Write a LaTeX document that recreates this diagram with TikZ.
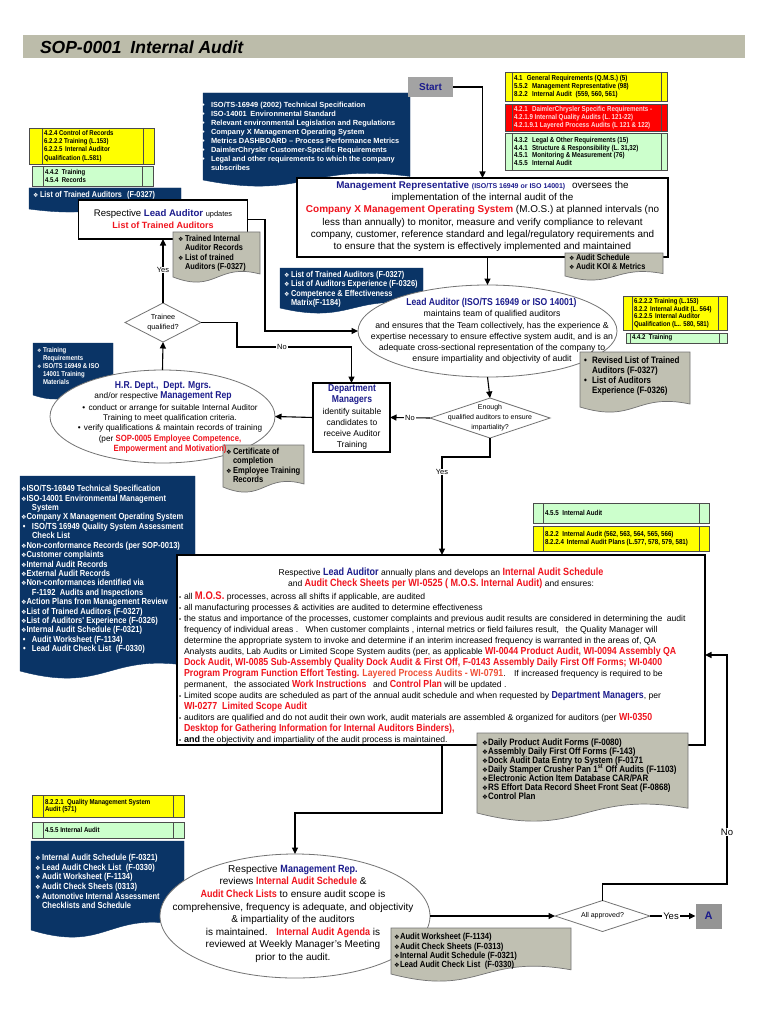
\documentclass[tikz,border=0pt]{standalone}
\usepackage{fontspec}
\usepackage{graphicx}
\setmainfont{Liberation Sans}
\newfontfamily\nar[FakeStretch=0.86]{Liberation Sans}
\newfontfamily\djv{DejaVu Sans}
\usetikzlibrary{shapes.geometric,arrows.meta,calc}
\lineskiplimit=-20pt
\definecolor{navy}{RGB}{28,28,140}
\definecolor{dred}{RGB}{240,20,30}
\definecolor{lred}{RGB}{240,80,55}
\definecolor{docblue}{RGB}{10,52,102}
\definecolor{docgray}{RGB}{192,192,178}
\definecolor{hdr}{RGB}{188,188,170}
\definecolor{ylw}{RGB}{255,255,0}
\definecolor{grn}{RGB}{204,255,204}
\definecolor{rbx}{RGB}{255,0,0}
\definecolor{pinktxt}{RGB}{255,215,215}
\definecolor{startgray}{RGB}{163,163,163}
\newcommand\fs[2]{\fontsize{#1}{#2}\selectfont}
\newcommand\dmx[1]{\makebox[#1][l]{\scalebox{0.7}{\djv\char"2756}}}
\newcommand\bux[1]{\makebox[#1][l]{\textbullet}}
\newcommand\sbu{\makebox[5pt][l]{\fs{6}{11}\textbullet}}
\newcommand\NV[1]{{\color{navy}\bfseries #1}}
\newcommand\RD[1]{{\color{dred}\bfseries #1}}
\newcommand\docshape[6]{%
  \path[#1] (#2,#3) -- (#4,#3) -- (#4,{#5-0.6*#6})
    .. controls ({(#2+#4)/2},{#5-2.89*#6}) and ({(#2+#4)/2},{#5+3.36*#6}) .. (#2,#5) -- cycle;}
\newcommand\refbox[9]{%
  \node[refst,fill=#2,anchor=north west,minimum width={#5-#3},minimum height={#6-#4}] (#1) at (#3,#4) {};
  \draw[refln] ([xshift=#7pt]#1.north west) -- ([xshift=#7pt]#1.south west);
  \draw[refln] ([xshift=-#8pt]#1.north east) -- ([xshift=-#8pt]#1.south east);
  \node[anchor=west,align=left,font=\nar\bfseries\rf,reftext] (#1t) at ([xshift=#7pt+2pt]#1.west) {#9};}
\begin{document}
\begin{tikzpicture}[x=1pt,y=-1pt,
  every node/.style={inner sep=0pt,outer sep=0pt},
  arr/.style={draw=black,line width=1.1pt,-{Triangle[length=6.5pt,width=6pt]}},
  boxst/.style={draw=black,line width=1.1pt,fill=white,rectangle},
  ellst/.style={draw=black!55,line width=0.8pt,fill=white,ellipse},
  diast/.style={draw=black!55,line width=0.8pt,fill=white,diamond},
  bdoc/.style={fill=docblue,draw=docblue},
  gdoc/.style={fill=docgray,draw=black!55,line width=0.7pt},
  refst/.style={draw=black!70,line width=0.8pt,rectangle},
  refln/.style={draw=black!70,line width=0.8pt},
  reftext/.style={},
  lbl/.style={fill=white,inner sep=0.8pt,font=\fs{7.5}{8}},
]
\useasboundingbox (0,0) rectangle (768,1024);
\fill[white] (0,0) rectangle (768,1024);
% header
\fill[hdr] (23,35) rectangle (745,58);
\node[anchor=base west,font=\bfseries\itshape\fs{17.5}{18}] (title) at (40,53.5) {SOP-0001\hspace{0.5em}Internal Audit};
% background blue documents
\docshape{bdoc}{203}{93}{410}{180}{6}
\docshape{bdoc}{29}{188}{181}{209}{3}
\docshape{bdoc}{33}{343}{113}{395}{4}
\docshape{bdoc}{280}{268}{423}{308}{5}
\docshape{bdoc}{20}{476}{195}{671}{7}
\docshape{bdoc}{31}{841}{184}{930}{7}
% main nodes
\node[fill=startgray,minimum width=45,minimum height=20,font=\bfseries\fs{10}{10},text=navy] (start) at (430.5,87) {Start};
\node[boxst,minimum width=371,minimum height=79] (mgmt) at (482.5,217.5) {};
\node[boxst,minimum width=169,minimum height=39] (upd) at (163,219.5) {};
\node[diast,minimum width=76,minimum height=39] (trainee) at (163,322.5) {};
\node[ellst,minimum width=225,minimum height=93] (hr) at (162.5,416.5) {};
\node[boxst,minimum width=77,minimum height=69] (dept) at (351.5,417.5) {};
\node[diast,minimum width=120,minimum height=40] (enough) at (490,418) {};
\node[ellst,minimum width=259,minimum height=92] (lae) at (487.5,331) {};
\node[boxst,minimum width=528,minimum height=190] (bigbox) at (441,650) {};
\node[ellst,minimum width=270,minimum height=124] (mre) at (295,916) {};
\node[diast,minimum width=95,minimum height=31] (approved) at (602.5,916) {};
\node[fill=black!42,minimum width=26,minimum height=25,font=\bfseries\fs{11}{11},text=navy] (abox) at (708.5,916) {A};
% connectors
\coordinate (c1) at (237,347);
\coordinate (c2) at (265,331);
\coordinate (c3) at (442,457);
\coordinate (c4) at (442,813);
\coordinate (c5) at (727,884);
\coordinate (c6) at (727,655);
\draw[arr] (start.east) -| (mgmt.north);
\draw[arr] (mgmt.south -| lae.north) -- (lae.north);
\draw[arr] (lae.south) -- (enough.north);
\draw[arr] (enough.west) -- (dept.east);
\draw[arr] (dept.west) -- (hr.east);
\draw[arr] (hr.north) -- (trainee.south);
\draw[arr] (trainee.north) -- (upd.south);
\draw[arr] (trainee.east) -| (c1) -| (dept.north);
\draw[arr] (upd.east) -| (c2) -- (lae.west);
\draw[arr] (enough.south) |- (c3) -- (c3 |- bigbox.north);
\draw[arr] (c4 |- bigbox.south) -- (c4) -| (mre.north);
\draw[arr] (mre.east) -- (approved.west);
\draw[arr] (approved.east) -- (abox.west);
\draw[arr] (approved.north) |- (c5) -- (c6) -- (c6 -| bigbox.east);
% gray documents on top
\docshape{gdoc}{173}{232}{260}{277}{5}
\docshape{gdoc}{565}{253}{663}{276}{4}
\docshape{gdoc}{580}{352}{690}{407}{5}
\docshape{gdoc}{223}{445}{304}{487}{5}
\docshape{gdoc}{477}{733}{688}{813}{8}
\docshape{gdoc}{391}{928}{571}{974}{7}
% reference boxes
\def\rf{\fs{7.2}{7.7}}
\refbox{r1}{ylw}{505}{72}{667}{101}{7}{6}{4.1\hspace{0.6em}General Requirements (Q.M.S.) (5)\\5.5.2\hspace{0.6em}Management Representative (98)\\8.2.2\hspace{0.6em}Internal Audit\hspace{0.5em}(559, 560, 561)}
\tikzset{reftext/.style={text=pinktxt}}
\def\rf{\fs{7.2}{8}}
\refbox{r2}{rbx}{505}{104}{667}{131}{7}{6}{4.2.1\hspace{0.6em}DaimlerChrysler Specific Requirements -\\4.2.1.9 Internal Quality Audits (L. 121-22)\\4.2.1.9.1 Layered Process Audits (L 121 \& 122)}
\tikzset{reftext/.style={}}
\def\rf{\fs{7.2}{7.7}}
\refbox{r3}{grn}{505}{133}{667}{170}{7}{6}{4.3.2\hspace{0.6em}Legal \& Other Requirements (15)\\4.4.1\hspace{0.6em}Structure \& Responsibility (L. 31,32)\\4.5.1\hspace{0.6em}Monitoring \& Measurement (76)\\4.5.5\hspace{0.6em}Internal Audit}
\def\rf{\fs{7}{8.3}}
\refbox{l1}{ylw}{29}{128}{154}{164}{13}{11}{4.2.4 Control of Records\\6.2.2.2 Training (L.153)\\6.2.2.5\hspace{0.4em}Internal Auditor\\Qualification (L.581)}
\refbox{l2}{grn}{32}{166}{153}{186}{11}{11}{4.4.2\hspace{0.5em}Training\\4.5.4\hspace{0.5em}Records}
\def\rf{\fs{7}{7.6}}
\refbox{rr1}{ylw}{623}{296}{727}{330}{9}{9}{6.2.2.2 Training (L.153)\\8.2.2\hspace{0.4em}Internal Audit (L. 564)\\6.2.2.5\hspace{0.4em}Internal Auditor\\Qualification (L.. 580, 581)}
\refbox{rr2}{grn}{626}{333}{727}{343}{4}{8}{4.4.2\hspace{0.5em}Training}
\def\rf{\fs{7.2}{8}}
\refbox{br1}{grn}{533}{503}{709}{523}{10}{10}{4.5.5\hspace{0.5em}Internal Audit}
\refbox{br2}{ylw}{533}{526}{709}{551}{10}{10}{8.2.2\hspace{0.5em}Internal Audit (562, 563, 564, 565, 566)\\8.2.2.4\hspace{0.4em}Internal Audit Plans (L.577, 578, 579, 581)}
\def\rf{\fs{7.1}{7.5}}
\refbox{bl1}{ylw}{32}{795}{184}{817}{11}{11}{8.2.2.1\hspace{0.5em}Quality Management System\\Audit (571)}
\refbox{bl2}{grn}{32}{822}{184}{838}{11}{11}{4.5.5 Internal Audit}
% texts in blue documents
\node[anchor=north west,align=left,font=\bfseries\fs{7.4}{9},text=white] (isot) at (202,101.8) {\bux{9pt}ISO/TS-16949 (2002) Technical Specification\\\bux{9pt}ISO-14001\hspace{0.5em}Environmental Standard\\\bux{9pt}Relevant environmental Legislation and Regulations\\\bux{9pt}Company X Management Operating System\\\bux{9pt}Metrics DASHBOARD \textendash{} Process Performance Metrics\\\bux{9pt}DaimlerChrysler Customer-Specific Requirements\\\bux{9pt}Legal and other requirements to which the company\\\hspace*{9pt}subscribes};
\node[anchor=mid west,font=\nar\bfseries\fs{8.5}{9},text=white] (bandt) at (33,195) {\dmx{7pt}List of Trained Auditors\hspace{0.6em}(F-0327)};
\node[anchor=north west,align=left,font=\nar\bfseries\fs{7}{8},text=white] (trqt) at (37,347.1) {\dmx{6pt}Training\\\hspace*{6pt}Requirements\\\dmx{6pt}ISO/TS 16949 \& ISO\\\hspace*{6pt}14001 Training\\\hspace*{6pt}Materials};
\node[anchor=north west,align=left,font=\nar\bfseries\fs{8.6}{9.3},text=white] (ltat) at (284,271.4) {\dmx{7pt}List of Trained Auditors (F-0327)\\\dmx{7pt}List of Auditors Experience (F-0326)\\\dmx{7pt}Competence \& Effectiveness\\\hspace*{7pt}Matrix(F-1184)};
\node[anchor=north west,align=left,font=\nar\bfseries\fs{8.8}{9.42},text=white] (bbt) at (21,485.3) {\dmx{5.5pt}ISO/TS-16949 Technical Specification\\\dmx{5.5pt}ISO-14001 Environmental Management\\\hspace*{11pt}System\\\dmx{5.5pt}Company X Management Operating System\\\hspace*{2pt}\bux{9pt}ISO/TS 16949 Quality System Assessment\\\hspace*{11pt}Check List\\\dmx{5.5pt}Non-conformance Records (per SOP-0013)\\\dmx{5.5pt}Customer complaints\\\dmx{5.5pt}Internal Audit Records\\\dmx{5.5pt}External Audit Records\\\dmx{5.5pt}Non-conformances identified via\\\hspace*{11pt}F-1192\hspace{0.5em}Audits and Inspections\\\dmx{5.5pt}Action Plans from Management Review\\\dmx{5.5pt}List of Trained Auditors (F-0327)\\\dmx{5.5pt}List of Auditors' Experience (F-0326)\\\dmx{5.5pt}Internal Audit Schedule (F-0321)\\\hspace*{2pt}\bux{9pt}Audit Worksheet (F-1134)\\\hspace*{2pt}\bux{9pt}Lead Audit Check List\hspace{0.5em}(F-0330)};
\node[anchor=north west,align=left,font=\nar\bfseries\fs{8.8}{9.6},text=white] (blbt) at (35,854.3) {\dmx{7pt}Internal Audit Schedule (F-0321)\\\dmx{7pt}Lead Audit Check List\hspace{0.5em}(F-0330)\\\dmx{7pt}Audit Worksheet (F-1134)\\\dmx{7pt}Audit Check Sheets (0313)\\\dmx{7pt}Automotive Internal Assessment\\\hspace*{7pt}Checklists and Schedule};
% texts in gray documents
\node[anchor=north west,align=left,font=\nar\bfseries\fs{8.6}{9.2}] (trt) at (178,235.4) {\dmx{7pt}Trained Internal\\\hspace*{7pt}Auditor Records\\\dmx{7pt}List of trained\\\hspace*{7pt}Auditors (F-0327)};
\node[anchor=north west,align=left,font=\nar\bfseries\fs{8.6}{9.3}] (ast) at (569,254.4) {\dmx{7pt}Audit Schedule\\\dmx{7pt}Audit KOI \& Metrics};
\node[anchor=north west,align=left,font=\nar\bfseries\fs{9.3}{9.8}] (rvt) at (584,357.1) {\bux{8pt}Revised List of Trained\\\hspace*{8pt}Auditors (F-0327)\\\bux{8pt}List of Auditors\\\hspace*{8pt}Experience (F-0326)};
\node[anchor=north west,align=left,font=\nar\bfseries\fs{8.8}{9.3}] (certt) at (226,448.3) {\dmx{7pt}Certificate of\\\hspace*{7pt}completion\\\dmx{7pt}Employee Training\\\hspace*{7pt}Records};
\node[anchor=north west,align=left,font=\nar\bfseries\fs{9.3}{8.9}] (fmt) at (482,739.2) {\dmx{6pt}Daily Product Audit Forms (F-0080)\\\dmx{6pt}Assembly Daily First Off Forms (F-143)\\\dmx{6pt}Dock Audit Data Entry to System (F-0171\\\dmx{6pt}Daily Stamper Crusher Pan 1\textsuperscript{st} Off Audits (F-1103)\\\dmx{6pt}Electronic Action Item Database CAR/PAR\\\dmx{6pt}RS Effort Data Record Sheet Front Seat (F-0868)\\\dmx{6pt}Control Plan};
\node[anchor=north west,align=left,font=\nar\bfseries\fs{8.9}{9.3}] (bgt) at (394,933.3) {\dmx{6pt}Audit Worksheet (F-1134)\\\dmx{6pt}Audit Check Sheets (F-0313)\\\dmx{6pt}Internal Audit Schedule (F-0321)\\\dmx{6pt}Lead Audit Check List\hspace{0.5em}(F-0330)};
% texts in main nodes
\node[anchor=north,align=center,font=\fs{9.9}{12.3}] (mgmtt) at (482.5,181) {\NV{\fs{9.8}{12.3}Management Representative} \NV{\fs{7}{12.3}(ISO/TS 16949 or ISO 14001)}\hspace{0.4em} oversees the\\implementation of the internal audit of the\\\RD{\fs{10}{12.3}Company X Management Operating System} (M.O.S.) at planned intervals (no\\less than annually) to monitor, measure and verify compliance to relevant\\company, customer, reference standard and legal/regulatory requirements and\\to ensure that the system is effectively implemented and maintained};
\node[anchor=mid,font=\fs{9.6}{10}] (updt) at (163,214) {Respective \NV{Lead Auditor} {\fs{7.4}{10}updates}};
\node[anchor=mid,font=\bfseries\fs{9}{10},text=dred] (updt2) at (163,226) {List of Trained Auditors};
\node[align=center,font=\fs{7.3}{9.5}] (tqt) at (163,322.5) {Trainee\\qualified?};
\node[anchor=mid,font=\nar\bfseries\fs{10}{11},text=navy] (laet1) at (491.5,303) {Lead Auditor (ISO/TS 16949 or ISO 14001)};
\node[anchor=north,align=center,font=\fs{8.7}{11.2}] (laet2) at (492,310.5) {maintains team of qualified auditors\\and ensures that the Team collectively, has the experience \&\\expertise necessary to ensure effective system audit, and is an\\adequate cross-sectional representation of the company to\\ensure impartiality and objectivity of audit};
\node[anchor=north,align=center,font=\fs{8.3}{10.3}] (hrt1) at (163,381.8) {\NV{\nar\fs{10}{10.3}H.R. Dept.,\hspace{0.5em}Dept. Mgrs.}\\and/or respective \NV{\nar\fs{10}{10.3}Management Rep}};
\node[anchor=north,align=center,font=\fs{8.2}{10.2}] (hrt2) at (170,404.6) {\textbullet\hspace{0.4em}conduct or arrange for suitable Internal Auditor\\Training to meet qualification criteria.\\\textbullet\hspace{0.4em}verify qualifications \& maintain records of training\\(per \RD{\nar\fs{9}{10.2}SOP-0005 Employee Competence,}\\\RD{\nar\fs{9}{10.2}Empowerment and Motivation)}};
\node[anchor=north,align=center,font=\fs{8.5}{11.2}] (deptt) at (352,384.8) {\NV{\nar\fs{10}{11.2}Department}\\\NV{\nar\fs{10}{11.2}Managers}\\identify suitable\\candidates to\\receive Auditor\\Training};
\node[align=center,font=\fs{7}{10}] (ent) at (490,418) {Enough\\qualified auditors to ensure\\impartiality?};
\node[anchor=north,align=center,font=\fs{8.5}{11}] (bbx1) at (441,567.8) {Respective \NV{\nar\fs{10.5}{11}Lead Auditor} annually plans and develops an \RD{\nar\fs{10.5}{11}Internal Audit Schedule}\\and \RD{\nar\fs{10.5}{11}Audit Check Sheets per WI-0525 ( M.O.S. Internal Audit)} and ensures:};
\node[anchor=north west,align=left,font=\fs{8.6}{11}] (bbx2) at (179,591.5) {\sbu all \RD{\nar\fs{11}{11}M.O.S.} processes, across all shifts if applicable, are audited\\\sbu all manufacturing processes \& activities are audited to determine effectiveness\\\sbu the status and importance of the processes, customer complaints and previous audit results are considered in determining the\hspace{0.5em}audit\\\hspace*{5pt}frequency of individual areas .\hspace{0.5em} When customer complaints , internal metrics or field failures result,\hspace{0.5em} the Quality Manager will\\\hspace*{5pt}determine the appropriate system to invoke and determine if an interim increased frequency is warranted in the areas of, QA\\\hspace*{5pt}Analysts audits, Lab Audits or Limited Scope System audits (per, as applicable \RD{\nar\fs{10.2}{11}WI-0044 Product Audit, WI-0094 Assembly QA}\\\hspace*{5pt}\RD{\nar\fs{10.2}{11}Dock Audit, WI-0085 Sub-Assembly Quality Dock Audit \& First Off, F-0143 Assembly Daily First Off Forms; WI-0400}\\\hspace*{5pt}\RD{\nar\fs{10.2}{11}Program Program Function Effort Testing.} {\color{lred}\nar\bfseries\fs{10.2}{11}Layered Process Audits - WI-0791}.\hspace{0.6em} If increased frequency is required to be\\\hspace*{5pt}permanent,\hspace{0.5em} the associated \RD{\nar\fs{10.2}{11}Work Instructions}\hspace{0.5em} and \RD{\nar\fs{10.2}{11}Control Plan} will be updated .\\\sbu Limited scope audits are scheduled as part of the annual audit schedule and when requested by \NV{\nar\fs{10.2}{11}Department Managers}, per\\\hspace*{5pt}\RD{\nar\fs{10.2}{11}WI-0277\hspace{0.5em}Limited Scope Audit}\\\sbu auditors are qualified and do not audit their own work, audit materials are assembled \& organized for auditors (per \RD{\nar\fs{10.2}{11}WI-0350}\\\hspace*{5pt}\RD{\nar\fs{10.2}{11}Desktop for Gathering Information for Internal Auditors Binders),}\\\sbu {\bfseries\fs{9}{11}and} the objectivity and impartiality of the audit process is maintained.};
\node[anchor=north,align=center,font=\fs{10}{12.6}] (mret) at (293,865) {Respective \NV{\nar\fs{10.5}{12.6}Management Rep.}\\reviews \RD{\nar\fs{10.5}{12.6}Internal Audit Schedule} \&\\\RD{\nar\fs{10.5}{12.6}Audit Check Lists} to ensure audit scope is\\comprehensive, frequency is adequate, and objectivity\\\& impartiality of the auditors\\is maintained.\hspace{0.5em} \RD{\nar\fs{10.5}{12.6}Internal Audit Agenda} is\\reviewed at Weekly Manager's Meeting\\prior to the audit.};
\node[font=\fs{7}{8}] (apt) at (602.5,916) {All approved?};
% labels
\node[lbl] (yes1) at (163,270) {Yes};
\node[lbl] (no1) at (282,347) {No};
\node[lbl] (no2) at (410,418) {No};
\node[lbl] (yes2) at (442,472) {Yes};
\node[lbl,font=\fs{9.5}{10}] (no3) at (727,832) {No};
\node[lbl,font=\fs{9.5}{10}] (yes3) at (671,916) {Yes};
\end{tikzpicture}
\end{document}
